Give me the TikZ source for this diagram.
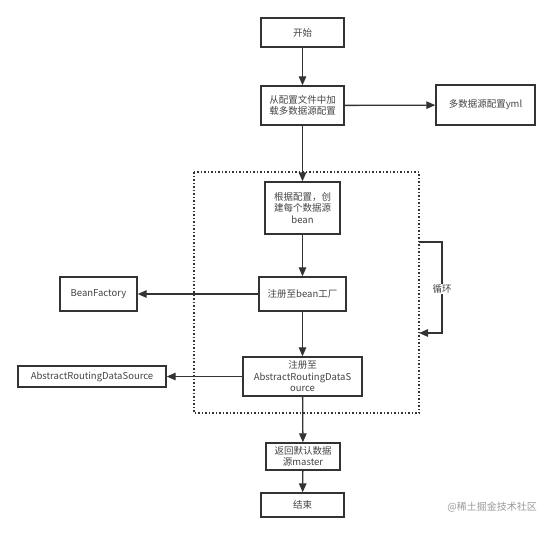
\documentclass[tikz,border=0pt]{standalone}
\usepackage{fontspec}
\setmainfont{Noto Sans CJK SC}
\usetikzlibrary{arrows.meta}
\definecolor{ln}{HTML}{333333}
\definecolor{tx}{HTML}{444444}
\begin{document}
\begin{tikzpicture}[x=1pt,y=-1pt,
  box/.style={draw=ln,line width=1.4pt,fill=white,inner sep=1pt,align=center,
    text=tx,font=\fontsize{9.5}{11.5}\selectfont},
  conn/.style={draw=ln,line width=1.3pt,-{Triangle[length=9pt,width=7.5pt]}}]
\useasboundingbox (0,0) rectangle (553,536);
\fill[white] (0,0) rectangle (553,536);
% dotted loop frame
\draw[ln,line width=1.5pt,dotted] (194,172) rectangle (419,413);
\node[box,minimum width=83pt,minimum height=29pt] (start) at (302.5,32.5) {开始};
\node[box,minimum width=83pt,minimum height=39pt] (load) at (302.5,105.5) {从配置文件中加\\载多数据源配置};
\node[box,minimum width=99pt,minimum height=40pt] (yml) at (485.5,105) {多数据源配置yml};
\node[box,minimum width=75pt,minimum height=52pt] (create) at (302.5,208) {根据配置，创\\建每个数据源\\bean};
\node[box,minimum width=87pt,minimum height=34pt] (reg) at (302.5,294) {注册至bean工厂};
\node[box,minimum width=119pt,minimum height=39pt] (rega) at (302.5,376.5) {注册至\\AbstractRoutingDataS\\ource};
\node[box,minimum width=77pt,minimum height=34pt] (bf) at (98.5,294) {BeanFactory};
\node[box,minimum width=148pt,minimum height=21pt] (ards) at (92,376.5) {AbstractRoutingDataSource};
\node[box,minimum width=74pt,minimum height=27pt] (ret) at (303,456.5) {返回默认数据\\源master};
\node[box,minimum width=83pt,minimum height=24pt] (end) at (302.5,505) {结束};
\draw[conn] (start) -- (load);
\draw[conn] (load) -- (yml);
\draw[conn] (load) -- (create);
\draw[conn] (create) -- (reg);
\draw[conn] (reg) -- (bf);
\draw[conn] (reg) -- (rega);
\draw[conn] (rega) -- (ards);
\draw[conn] (rega) -- (ret);
\draw[conn] (ret) -- (end);
% loop connector
\coordinate (l1) at (419,242);
\coordinate (l2) at (442,242);
\coordinate (l3) at (442,333);
\coordinate (l4) at (419,333);
\draw[conn] (l1) -- (l2) -- (l3) -- (l4);
\node[fill=white,inner sep=1pt,text=tx,font=\fontsize{9.5}{11.5}\selectfont] (loop) at (442,289) {循环};
\node[text=black!40,font=\fontsize{10}{12}\selectfont,anchor=east,inner sep=0pt] (wm) at (537,507) {@稀土掘金技术社区};
\end{tikzpicture}
\end{document}
